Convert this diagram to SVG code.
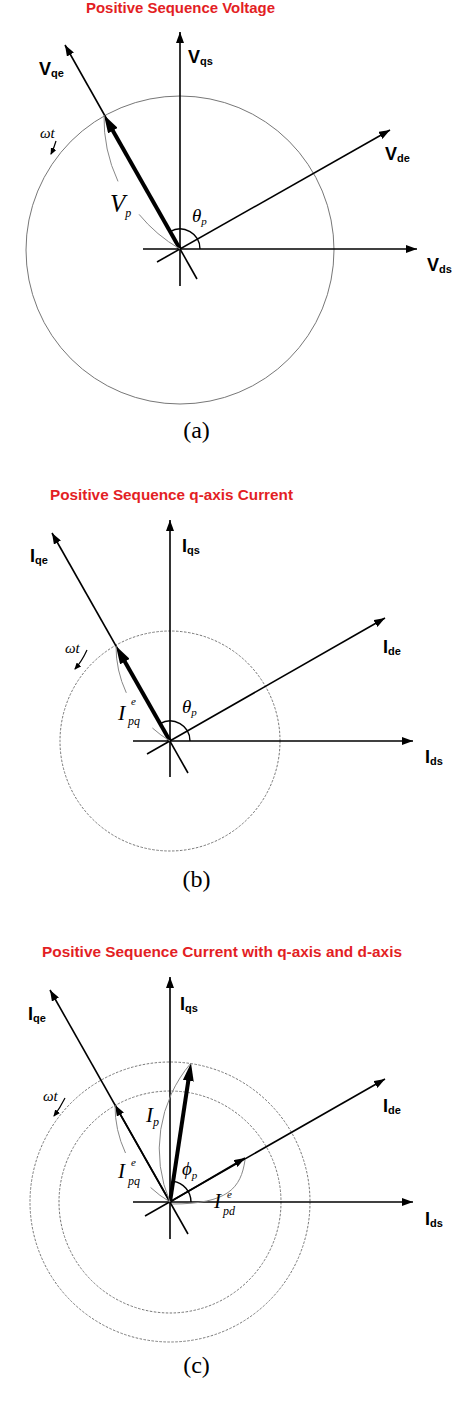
<svg xmlns="http://www.w3.org/2000/svg" width="474" height="1401" viewBox="0 0 474 1401">
<style>
.bg{fill:#fff}
.title{font-family:"Liberation Sans",Arial,sans-serif;font-weight:bold;font-size:15px;fill:#e31e24}
.ax{stroke:#000;stroke-width:1.6;fill:none}
.vec{stroke:#000;stroke-width:4;fill:none}
.thin{stroke:#000;stroke-width:1.6;fill:none}
.circ{stroke:#777;stroke-width:1;fill:none}
.dash{stroke:#777;stroke-width:1;fill:none;stroke-dasharray:2.5 1.5}
.arc{stroke:#888;stroke-width:1;fill:none}
.ang{stroke:#000;stroke-width:1.4;fill:none}
.lb{font-family:"Liberation Sans",Arial,sans-serif;font-weight:bold;font-size:18px;fill:#000}
.sub{font-size:11px}
.it{font-family:"Liberation Serif","Times New Roman",serif;font-style:italic;fill:#000}
.cap{font-family:"Liberation Serif","Times New Roman",serif;font-size:24px;fill:#000;text-anchor:middle}
</style>
<defs>
<marker id="ah" markerUnits="userSpaceOnUse" markerWidth="12" markerHeight="8" refX="11" refY="4" orient="auto"><path d="M0,0 L11,4 L0,8 z" fill="#000"/></marker>
<marker id="bh" markerUnits="userSpaceOnUse" markerWidth="18" markerHeight="11" refX="6" refY="5.5" orient="auto"><path d="M0,0 L18,5.5 L0,11 z" fill="#000"/></marker>
<marker id="sh" markerUnits="userSpaceOnUse" markerWidth="7" markerHeight="6" refX="6" refY="3" orient="auto"><path d="M0,0 L7,3 L0,6 z" fill="#000"/></marker>
</defs>
<rect class="bg" x="0" y="0" width="474" height="1401"/>

<!-- Panel (a) -->
<g id="panel-a">
<text class="title" x="86" y="13" textLength="189" lengthAdjust="spacingAndGlyphs">Positive Sequence Voltage</text>
<circle class="circ" cx="180" cy="250" r="154"/>
<g id="a-connectors">
<line class="ax" x1="180" y1="286" x2="180" y2="32" marker-end="url(#ah)"/>
<line class="ax" x1="143" y1="249" x2="417" y2="249" marker-end="url(#ah)"/>
<line class="ax" x1="197" y1="279" x2="65" y2="45" marker-end="url(#ah)"/>
<line class="ax" x1="157" y1="262" x2="390" y2="130" marker-end="url(#ah)"/>
<line class="vec" x1="180" y1="249" x2="109.9" y2="125.4" marker-end="url(#bh)"/>
<path class="arc" d="M104,115 A150,150 0 0,0 118,181.4"/>
<path class="arc" d="M139.1,214.4 A150,150 0 0,0 180,249"/>
<path class="ang" d="M200,249 A20,20 0 0,0 170,231.7"/>
<path class="thin" style="stroke-width:1.2" d="M56,141 Q54,148 51,154" marker-end="url(#sh)"/>
</g>
<g id="a-labels">
<text class="lb" x="188" y="63">V<tspan class="sub" dy="2">qs</tspan></text>
<text class="lb" x="39" y="75">V<tspan class="sub" dy="2">qe</tspan></text>
<text class="lb" x="385" y="160">V<tspan class="sub" dy="2">de</tspan></text>
<text class="lb" x="427" y="271">V<tspan class="sub" dy="2">ds</tspan></text>
<text class="it" x="110" y="212" font-size="25">V<tspan font-size="12" dy="5">p</tspan></text>
<text class="it" x="192" y="222" font-size="19">θ<tspan font-size="11" dy="3">p</tspan></text>
<text class="it" x="40" y="138" font-size="15">ωt</text>
</g>
<text class="cap" x="196.5" y="438">(a)</text>
</g>

<!-- Panel (b) -->
<g id="panel-b">
<text class="title" x="50" y="500" textLength="243" lengthAdjust="spacingAndGlyphs">Positive Sequence q-axis Current</text>
<circle class="dash" cx="170" cy="741" r="110"/>
<g id="b-connectors">
<line class="ax" x1="170" y1="777" x2="170" y2="520" marker-end="url(#ah)"/>
<line class="ax" x1="133" y1="741" x2="413" y2="741" marker-end="url(#ah)"/>
<line class="ax" x1="188" y1="773" x2="52" y2="533" marker-end="url(#ah)"/>
<line class="ax" x1="147" y1="754" x2="385" y2="618" marker-end="url(#ah)"/>
<line class="vec" x1="170" y1="741" x2="121.9" y2="656.4" marker-end="url(#bh)"/>
<path class="arc" d="M116,646 A110,110 0 0,0 126.3,692.8"/>
<path class="arc" d="M152.4,728 A110,110 0 0,0 170,741"/>
<path class="ang" d="M190,741 A20,20 0 0,0 160,723.7"/>
<path class="thin" style="stroke-width:1.2" d="M87,650 Q82,661 75,669" marker-end="url(#sh)"/>
</g>
<g id="b-labels">
<text class="lb" x="182" y="552">I<tspan class="sub" dy="2">qs</tspan></text>
<text class="lb" x="30" y="562">I<tspan class="sub" dy="2">qe</tspan></text>
<text class="lb" x="383" y="653">I<tspan class="sub" dy="2">de</tspan></text>
<text class="lb" x="425" y="763">I<tspan class="sub" dy="2">ds</tspan></text>
<text class="it" x="118" y="720" font-size="22">I</text>
<text class="it" x="131" y="705" font-size="11">e</text>
<text class="it" x="128" y="725" font-size="12">pq</text>
<text class="it" x="182" y="713" font-size="19">θ<tspan font-size="11" dy="3">p</tspan></text>
<text class="it" x="65" y="653" font-size="15">ωt</text>
</g>
<text class="cap" x="196.5" y="887">(b)</text>
</g>

<!-- Panel (c) -->
<g id="panel-c">
<text class="title" x="42" y="957" textLength="360" lengthAdjust="spacingAndGlyphs">Positive Sequence Current with q-axis and d-axis</text>
<circle class="dash" cx="170" cy="1202" r="140"/>
<circle class="dash" cx="170" cy="1202" r="111"/>
<g id="c-connectors">
<line class="ax" x1="170" y1="1239" x2="170" y2="977" marker-end="url(#ah)"/>
<line class="ax" x1="133" y1="1202" x2="413" y2="1202" marker-end="url(#ah)"/>
<line class="ax" x1="188" y1="1234" x2="50" y2="990" marker-end="url(#ah)"/>
<line class="ax" x1="145" y1="1216" x2="385" y2="1079" marker-end="url(#ah)"/>
<line class="thin" x1="170" y1="1202" x2="115" y2="1105" marker-end="url(#ah)"/>
<line class="thin" x1="170" y1="1202" x2="245" y2="1158" marker-end="url(#ah)"/>
<line class="vec" x1="170" y1="1202" x2="189.2" y2="1074.9" marker-end="url(#bh)"/>
<path class="arc" d="M191,1063 A133.5,133.5 0 0,0 170,1202"/>
<path class="arc" d="M115,1105 A112,112 0 0,0 125.5,1153"/>
<path class="arc" d="M150.6,1187.5 A112,112 0 0,0 170,1202"/>
<path class="arc" d="M245,1160 C241,1188 228,1204 172,1204"/>
<path class="ang" d="M191,1202 A21,21 0 0,0 173.1,1181.2"/>
<path class="thin" style="stroke-width:1.2" d="M65,1098 Q60,1108 54,1116" marker-end="url(#sh)"/>
</g>
<g id="c-labels">
<text class="lb" x="180" y="1010">I<tspan class="sub" dy="2">qs</tspan></text>
<text class="lb" x="28" y="1020">I<tspan class="sub" dy="2">qe</tspan></text>
<text class="lb" x="383" y="1112">I<tspan class="sub" dy="2">de</tspan></text>
<text class="lb" x="425" y="1225">I<tspan class="sub" dy="2">ds</tspan></text>
<text class="it" x="146" y="1122" font-size="21">I<tspan font-size="12" dy="4">p</tspan></text>
<text class="it" x="118" y="1178" font-size="21">I</text>
<text class="it" x="131" y="1166" font-size="11">e</text>
<text class="it" x="128" y="1185" font-size="12">pq</text>
<text class="it" x="182" y="1175" font-size="19">ϕ<tspan font-size="11" dy="4">p</tspan></text>
<text class="it" x="214" y="1208" font-size="21">I</text>
<text class="it" x="227" y="1198" font-size="11">e</text>
<text class="it" x="223" y="1215" font-size="12">pd</text>
<text class="it" x="43" y="1101" font-size="15">ωt</text>
</g>
<text class="cap" x="196.5" y="1373">(c)</text>
</g>
</svg>
